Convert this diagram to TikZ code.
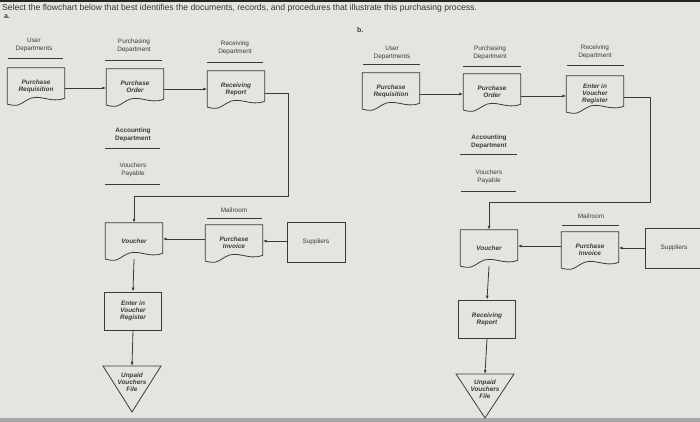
\documentclass[tikz,border=0pt]{standalone}
\usepackage{fontspec}
\setmainfont{Liberation Sans}
\usetikzlibrary{arrows.meta}
\definecolor{bg}{HTML}{E5E4E0}
\definecolor{ink}{HTML}{3A3A3A}
\newcommand\docshape[1]{\draw[ink,line width=0.8pt] (#1.south west) -- (#1.north west) -- (#1.north east) -- ([yshift=6pt]#1.south east) .. controls ([xshift=-14pt,yshift=0pt]#1.south east) and ([xshift=-26pt,yshift=12pt]#1.south east) .. ([xshift=-38pt,yshift=4pt]#1.south east) .. controls ([xshift=10pt,yshift=-2pt]#1.south west) .. (#1.south west);}
\begin{document}
\begin{tikzpicture}[x=1pt,y=-1pt,
  hd/.style={font=\fontsize{6.4}{7.4}\selectfont,text=ink,align=center,inner sep=0pt},
  doc/.style={minimum width=57pt,minimum height=36pt,inner sep=0pt,align=center,font=\fontsize{6.4}{7.2}\selectfont\bfseries\itshape,text=ink},
  box/.style={draw=ink,line width=0.8pt,minimum width=57pt,minimum height=38pt,inner sep=0pt,align=center,font=\fontsize{6.4}{7.2}\selectfont\bfseries\itshape,text=ink},
  sup/.style={draw=ink,line width=0.8pt,minimum width=58pt,minimum height=40pt,inner sep=0pt,font=\fontsize{6.4}{7.2}\selectfont,text=ink},
  ul/.style={ink,line width=0.8pt},
  arr/.style={ink,line width=0.8pt,-{Latex[length=4pt,width=3pt]}},
  ln/.style={ink,line width=0.8pt}]
\useasboundingbox (0,0) rectangle (700,422);
\fill[bg] (0,0) rectangle (700,422);
\fill[black!85] (0,0) rectangle (700,2);
\fill[gray!70] (0,418) rectangle (700,422);
\node[anchor=west,inner sep=0pt,font=\fontsize{8.6}{9}\selectfont,text=black!80] (title) at (2,8) {Select the flowchart below that best identifies the documents, records, and procedures that illustrate this purchasing process.};
\node[anchor=west,inner sep=0pt,font=\fontsize{7}{8}\selectfont\bfseries,text=ink] (la) at (4,17) {a.};
\node[anchor=west,inner sep=0pt,font=\fontsize{7}{8}\selectfont\bfseries,text=ink] (lb) at (357,30) {b.};
% ===== panel a =====
\node[hd] (au) at (34,45) {User\\Departments};
\draw[ul] (8,58) -- (63,58);
\node[hd] (ap) at (134,46) {Purchasing\\Department};
\draw[ul] (105,60) -- (162,60);
\node[hd] (ar) at (235,48) {Receiving\\Department};
\draw[ul] (207,62) -- (263,62);
\node[doc] (apr) at (36,86) {Purchase\\Requisition}; \docshape{apr}
\node[doc] (apo) at (135,87) {Purchase\\Order}; \docshape{apo}
\node[doc] (arr) at (236,89) {Receiving\\Report}; \docshape{arr}
\draw[arr] (apr.east |- 0,88) -- (apo.west |- 0,88);
\draw[arr] (apo.east |- 0,89) -- (arr.west |- 0,89);
\node[hd,font=\fontsize{6.4}{7.4}\selectfont\bfseries] (aacc) at (133,135) {Accounting\\Department};
\draw[ul] (105,148) -- (160,148);
\node[hd] (avp) at (133,170) {Vouchers\\Payable};
\draw[ul] (105,184) -- (160,184);
\node[hd] (amail) at (234,210) {Mailroom};
\draw[ul] (207,218) -- (262,218);
\node[doc] (avo) at (134,241) {Voucher}; \docshape{avo}
\node[doc] (api) at (234,243) {Purchase\\Invoice}; \docshape{api}
\node[sup] (asu) at (316,242) {Suppliers};
\draw[arr] (asu.west |- 0,241) -- (api.east |- 0,241);
\draw[arr] (api.west |- 0,239) -- (avo.east |- 0,239);
\draw[arr] (arr.east |- 0,93) -| (288,196) -| (avo.north);
\node[box] (aevr) at (133,311) {Enter in\\Voucher\\Register};
\draw[arr] (avo.south) -- (aevr.north);
\draw[ln,fill=bg] (103,366) -- (161,366) -- (132,412) -- cycle;
\node[hd,font=\fontsize{6.4}{7.2}\selectfont\bfseries\itshape] (auvf) at (132,382) {Unpaid\\Vouchers\\File};
\draw[arr] (aevr.south) -- (132,366);
% ===== panel b =====
\node[hd] (bu) at (392,53) {User\\Departments};
\draw[ul] (363,64) -- (420,64);
\node[hd] (bp) at (490,53) {Purchasing\\Department};
\draw[ul] (463,66) -- (521,66);
\node[hd] (br) at (595,52) {Receiving\\Department};
\draw[ul] (567,65) -- (624,65);
\node[doc] (bpr) at (391,91) {Purchase\\Requisition}; \docshape{bpr}
\node[doc] (bpo) at (492,92) {Purchase\\Order}; \docshape{bpo}
\node[doc] (bevr) at (595,94) {Enter in\\Voucher\\Register}; \docshape{bevr}
\draw[arr] (bpr.east |- 0,94) -- (bpo.west |- 0,94);
\draw[arr] (bpo.east |- 0,96) -- (bevr.west |- 0,96);
\node[hd,font=\fontsize{6.4}{7.4}\selectfont\bfseries] (bacc) at (489,142) {Accounting\\Department};
\draw[ul] (460,154) -- (517,154);
\node[hd] (bvp) at (489,177) {Vouchers\\Payable};
\draw[ul] (461,191) -- (516,191);
\node[hd] (bmail) at (591,216) {Mailroom};
\draw[ul] (562,225) -- (619,225);
\node[doc] (bvo) at (489,248) {Voucher}; \docshape{bvo}
\node[doc] (bpi) at (590,250) {Purchase\\Invoice}; \docshape{bpi}
\node[sup] (bsu) at (674,248) {Suppliers};
\draw[arr] (bsu.west |- 0,248) -- (bpi.east |- 0,248);
\draw[arr] (bpi.west |- 0,246) -- (bvo.east |- 0,246);
\draw[arr] (bevr.east |- 0,97) -| (650,202) -| (bvo.north);
\node[box] (brr) at (487,319) {Receiving\\Report};
\draw[arr] (bvo.south) -- (brr.north);
\draw[ln,fill=bg] (456,374) -- (514,374) -- (485,418) -- cycle;
\node[hd,font=\fontsize{6.4}{7.2}\selectfont\bfseries\itshape] (buvf) at (485,389) {Unpaid\\Vouchers\\File};
\draw[arr] (brr.south) -- (485,374);
\end{tikzpicture}
\end{document}
